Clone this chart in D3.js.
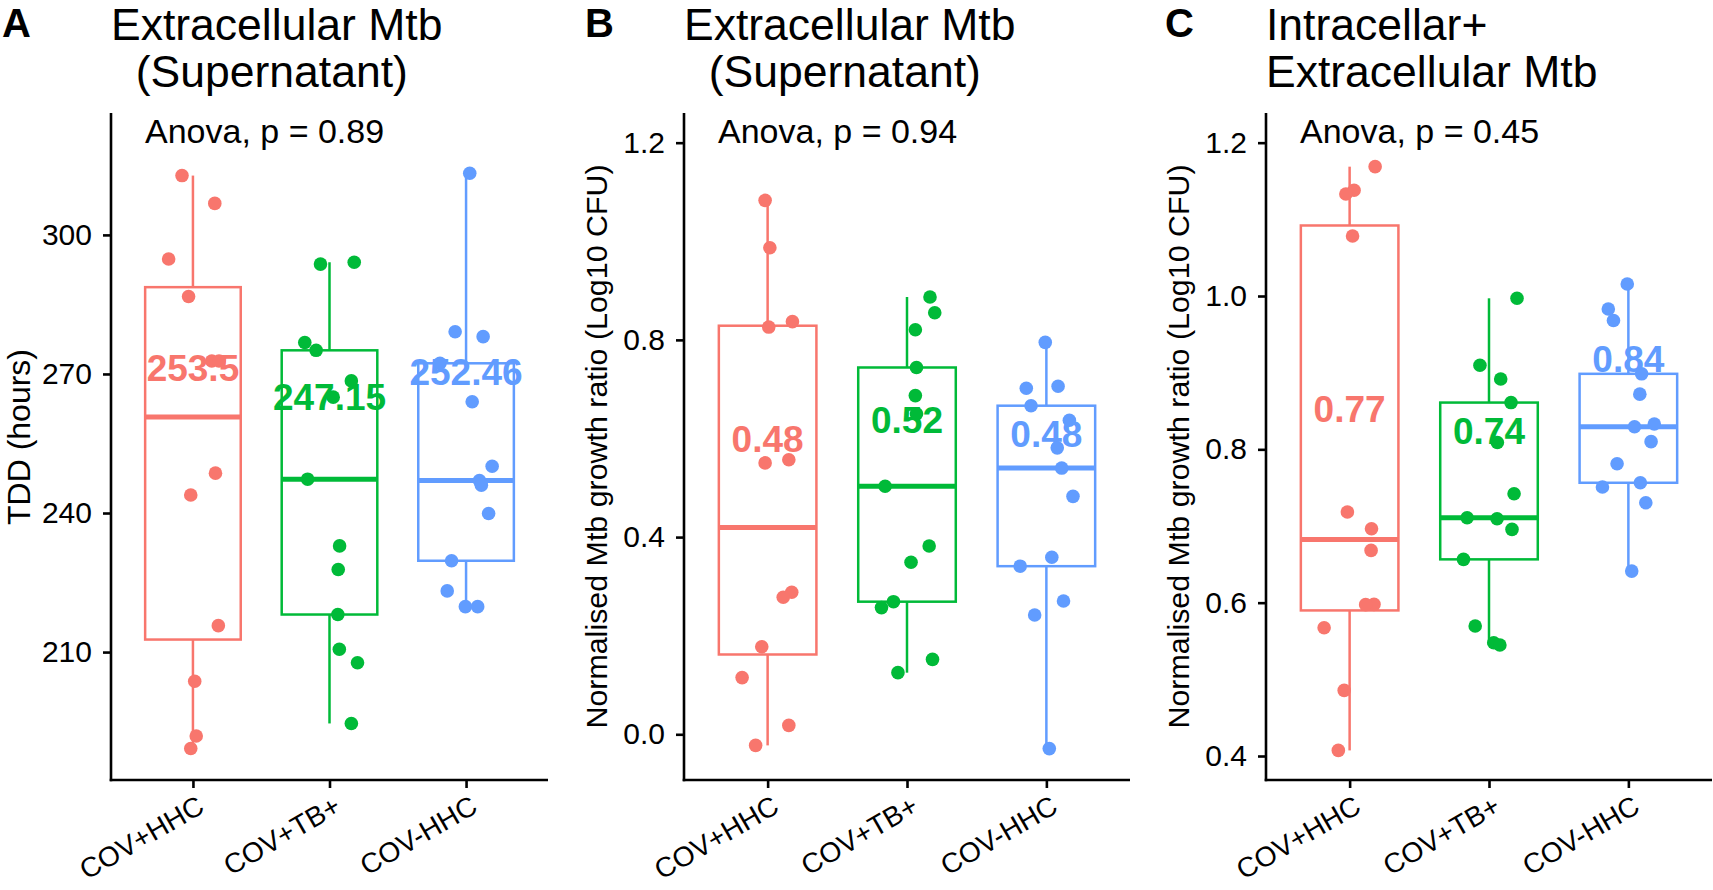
<!DOCTYPE html>
<html><head><meta charset="utf-8">
<script src="https://cdn.jsdelivr.net/npm/d3@7"></script>
<style>
body{margin:0;background:#fff;}
svg{display:block;font-family:"Liberation Sans",Arial,sans-serif;}
</style></head><body>
<svg id="chart" width="1713" height="890"></svg>
<script>
// ---------- DATA ----------
const groups = ["COV+HHC", "COV+TB+", "COV-HHC"];
const groupColors = ["#F8766D", "#00BA38", "#619CFF"];

// Panel A: TDD (hours), extracellular Mtb (supernatant)
const tddCovHHC = [312.8, 306.8, 294.8, 286.7, 272.8, 272.8, 248.6, 243.9, 215.7, 203.7, 191.9, 189.2];
const tddCovTB = [293.7, 294.1, 276.8, 275.1, 268.5, 265.0, 247.3, 232.9, 227.8, 218.1, 210.6, 207.7, 194.6];
const tddCovNegHHC = [313.3, 279.1, 278.05, 272.3, 264.0, 250.1, 247.0, 246.0, 239.9, 229.7, 223.2, 219.8, 219.8];
const tddJitter = [
  [-0.080, 0.160, -0.178, -0.032, 0.138, 0.191, 0.165, -0.016, 0.186, 0.013, 0.024, -0.016],
  [-0.066, 0.181, -0.181, -0.098, 0.160, 0.027, -0.160, 0.074, 0.064, 0.061, 0.072, 0.205, 0.160],
  [0.027, -0.080, 0.125, -0.191, 0.045, 0.191, 0.098, 0.112, 0.165, -0.106, -0.138, -0.005, 0.085]
];
const tddMeanLabels = ["253.5", "247.15", "252.46"];
const tddTicks = [210, 240, 270, 300];

// Panel B: normalised growth ratio, extracellular Mtb (supernatant)
const extCovHHC = [1.083, 0.987, 0.837, 0.826, 0.557, 0.5505, 0.288, 0.278, 0.1775, 0.115, 0.018, -0.0225];
const extCovTB = [0.887, 0.855, 0.8205, 0.744, 0.687, 0.65, 0.503, 0.382, 0.349, 0.269, 0.257, 0.152, 0.125];
const extCovNegHHC = [0.795, 0.706, 0.702, 0.6665, 0.637, 0.581, 0.540, 0.4826, 0.359, 0.341, 0.2704, 0.2419, -0.029];
const extJitter = [
  [-0.018, 0.016, 0.178, 0.008, 0.152, -0.018, 0.173, 0.112, -0.042, -0.183, 0.152, -0.086],
  [0.165, 0.199, 0.060, 0.068, 0.060, 0.068, -0.157, 0.159, 0.029, -0.097, -0.183, 0.183, -0.065],
  [-0.008, 0.084, -0.144, -0.110, 0.165, 0.078, 0.110, 0.191, 0.039, -0.188, 0.123, -0.084, 0.021]
];
const extMeanLabels = ["0.48", "0.52", "0.48"];
const extTicks = [0.0, 0.4, 0.8, 1.2];

// Panel C: normalised growth ratio, intracellular + extracellular Mtb
const totCovHHC = [1.1687, 1.138, 1.133, 1.0783, 0.7182, 0.6965, 0.6682, 0.5978, 0.5974, 0.5673, 0.4856, 0.4073];
const totCovTB = [0.997, 0.9097, 0.8918, 0.861, 0.809, 0.742, 0.7108, 0.7095, 0.6956, 0.6565, 0.5695, 0.5477, 0.5447];
const totCovNegHHC = [1.0157, 0.983, 0.968, 0.8985, 0.872, 0.8295, 0.833, 0.810, 0.7812, 0.7564, 0.7508, 0.7303, 0.6412];
const totJitter = [
  [0.183, 0.032, -0.027, 0.021, -0.016, 0.157, 0.154, 0.175, 0.115, -0.183, -0.039, -0.081],
  [0.201, -0.065, 0.084, 0.158, 0.060, 0.180, -0.157, 0.058, 0.165, -0.183, -0.099, 0.034, 0.078],
  [-0.008, -0.144, -0.107, 0.095, 0.082, 0.044, 0.186, 0.163, -0.081, 0.086, -0.186, 0.125, 0.024]
];
const totMeanLabels = ["0.77", "0.74", "0.84"];
const totTicks = [0.4, 0.6, 0.8, 1.0, 1.2];

const panelLetters = ["A", "B", "C"];
const panelTitles = [
  ["Extracellular Mtb", "  (Supernatant)"],
  ["Extracellular Mtb", "  (Supernatant)"],
  ["Intracellar+", "Extracellular Mtb"]
];
const yTitles = ["TDD (hours)", "Normalised Mtb growth ratio (Log10 CFU)", "Normalised Mtb growth ratio (Log10 CFU)"];
const anovaLabels = ["Anova, p = 0.89", "Anova, p = 0.94", "Anova, p = 0.45"];

// ---------- LAYOUT ----------
const plotTop = 113, plotBottom = 780;
const panels = [
  {x0: 111, x1: 548, domain: [182.4, 326.3], ticks: tddTicks, fmt: d3.format("d"),
   series: [tddCovHHC, tddCovTB, tddCovNegHHC], jitter: tddJitter, means: tddMeanLabels, nudge: 18,
   letterX: 2, yTitleX: 30, yTitleY: 437, yTitleSize: 32},
  {x0: 684, x1: 1130, domain: [-0.0927, 1.2602], ticks: extTicks, fmt: d3.format(".1f"),
   series: [extCovHHC, extCovTB, extCovNegHHC], jitter: extJitter, means: extMeanLabels, nudge: 0.125,
   letterX: 585, yTitleX: 607, yTitleY: 446.5, yTitleSize: 30.4},
  {x0: 1266, x1: 1712, domain: [0.3687, 1.2387], ticks: totTicks, fmt: d3.format(".1f"),
   series: [totCovHHC, totCovTB, totCovNegHHC], jitter: totJitter, means: totMeanLabels, nudge: 0.082,
   letterX: 1165, yTitleX: 1189, yTitleY: 446.5, yTitleSize: 30.4}
];

const svg = d3.select("#chart");
svg.append("rect").attr("width", 1713).attr("height", 890).attr("fill", "#fff");

panels.forEach((p, pi) => {
  const g = svg.append("g");
  const x = d3.scalePoint().domain(groups).range([p.x0, p.x1]).padding(0.6);
  const y = d3.scaleLinear().domain(p.domain).range([plotBottom, plotTop]);
  const step = x.step();
  const bw = 0.7 * step;

  // boxplots
  p.series.forEach((vals, i) => {
    const col = groupColors[i];
    const cx = x(groups[i]);
    const s = vals.slice().sort(d3.ascending);
    const q1 = d3.quantile(s, 0.25), med = d3.quantile(s, 0.5), q3 = d3.quantile(s, 0.75);
    const iqr = q3 - q1;
    const lo = d3.min(s.filter(v => v >= q1 - 1.5 * iqr));
    const hi = d3.max(s.filter(v => v <= q3 + 1.5 * iqr));
    const bg = g.append("g");
    bg.append("line").attr("x1", cx).attr("x2", cx).attr("y1", y(hi)).attr("y2", y(q3))
      .attr("stroke", col).attr("stroke-width", 2.5);
    bg.append("line").attr("x1", cx).attr("x2", cx).attr("y1", y(q1)).attr("y2", y(lo))
      .attr("stroke", col).attr("stroke-width", 2.5);
    bg.append("rect").attr("x", cx - bw / 2).attr("y", y(q3)).attr("width", bw).attr("height", y(q1) - y(q3))
      .attr("fill", "#fff").attr("stroke", col).attr("stroke-width", 2.5);
    bg.append("line").attr("x1", cx - bw / 2).attr("x2", cx + bw / 2).attr("y1", y(med)).attr("y2", y(med))
      .attr("stroke", col).attr("stroke-width", 5);
  });

  // mean labels
  p.series.forEach((vals, i) => {
    const m = d3.mean(vals);
    g.append("text").attr("x", x(groups[i])).attr("y", y(m + p.nudge)).attr("dy", "0.36em")
      .attr("text-anchor", "middle").attr("font-weight", "bold").attr("font-size", 37)
      .attr("fill", groupColors[i]).text(p.means[i]);
  });

  // jittered points
  p.series.forEach((vals, i) => {
    g.append("g").selectAll("circle").data(vals).join("circle")
      .attr("cx", (d, k) => x(groups[i]) + p.jitter[i][k] * step)
      .attr("cy", d => y(d)).attr("r", 6.8).attr("fill", groupColors[i]);
  });

  // axes
  const ya = g.append("g").attr("transform", `translate(${p.x0},0)`)
    .call(d3.axisLeft(y).tickValues(p.ticks).tickFormat(p.fmt).tickSize(8).tickSizeOuter(0).tickPadding(11));
  const xa = g.append("g").attr("transform", `translate(0,${plotBottom})`)
    .call(d3.axisBottom(x).tickSize(8).tickSizeOuter(0).tickFormat(""));
  [ya, xa].forEach(a => {
    a.select(".domain").attr("stroke", "#000").attr("stroke-width", 2.6);
    a.selectAll(".tick line").attr("stroke", "#000").attr("stroke-width", 2.6);
  });
  ya.selectAll(".tick text").attr("font-size", 30).attr("fill", "#000")
    .attr("font-family", "'Liberation Sans',Arial,sans-serif");
  ya.select(".domain").attr("d", `M0,${plotTop}V${plotBottom + 1.3}`);
  xa.select(".domain").attr("d", `M${p.x0 - 1.3},0H${p.x1}`);

  // x labels rotated
  groups.forEach(gr => {
    g.append("text").attr("transform", `translate(${x(gr) + 3},${plotBottom + 14}) rotate(-30)`)
      .attr("text-anchor", "end").attr("dy", "0.72em").attr("font-size", 28).attr("fill", "#000")
      .text(gr);
  });

  // y title
  g.append("text").attr("transform", `translate(${p.yTitleX},${p.yTitleY}) rotate(-90)`)
    .attr("text-anchor", "middle").attr("font-size", p.yTitleSize).attr("fill", "#000").text(yTitles[pi]);

  // anova label
  g.append("text").attr("x", p.x0 + 34).attr("y", 142.7).attr("font-size", 34).attr("fill", "#000")
    .text(anovaLabels[pi]);

  // title
  panelTitles[pi].forEach((t, li) => {
    g.append("text").attr("x", p.x0).attr("y", 40 + li * 47).attr("font-size", 44.5).attr("fill", "#000")
      .style("white-space", "pre").text(t);
  });

  // panel letter
  g.append("text").attr("x", p.letterX).attr("y", 37).attr("font-size", 40).attr("font-weight", "bold")
    .attr("fill", "#000").text(panelLetters[pi]);
});
</script>
</body></html>
